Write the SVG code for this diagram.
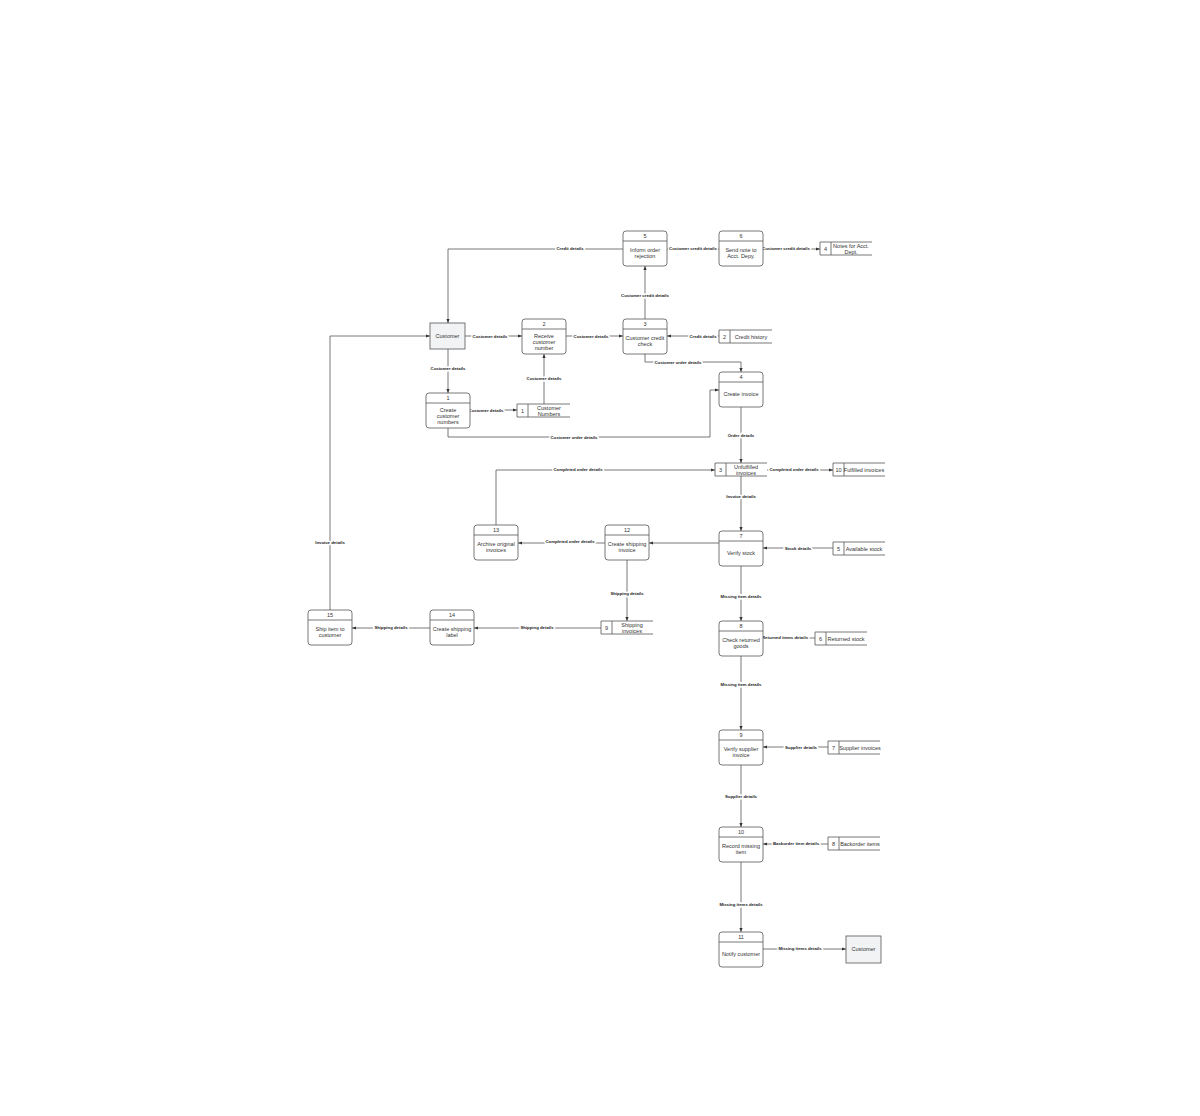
<svg xmlns="http://www.w3.org/2000/svg" width="1200" height="1116" viewBox="0 0 1200 1116">
<defs>
<marker id="ar" viewBox="0 0 10 10" refX="10" refY="5" markerWidth="5" markerHeight="5" orient="auto"><path d="M0,1 L10,5 L0,9 z" fill="#333"/></marker>
<style>
.p{fill:#fff;stroke:#555;stroke-width:0.8}
.e{fill:#f2f3f5;stroke:#555;stroke-width:0.8}
.s{fill:none;stroke:#555;stroke-width:0.8}
.t{font-family:"Liberation Sans",Arial,sans-serif;font-size:5.5px;fill:#333;text-anchor:middle}
.c path{fill:none;stroke:#555;stroke-width:0.8;marker-end:url(#ar)}
.l{font-family:"Liberation Sans",Arial,sans-serif;font-size:4.3px;font-weight:bold;fill:#222;text-anchor:middle;paint-order:stroke;stroke:#fff;stroke-width:3px}
</style>
</defs>
<rect width="1200" height="1116" fill="#fff"/>
<g class="c" id="connectors">
<path d="M623,249 H448 V323"/><text class="l" x="570" y="250">Credit details</text>
<path d="M667,249 H719"/><text class="l" x="693" y="250">Customer credit details</text>
<path d="M763,249 H820"/><text class="l" x="786" y="250">Customer credit details</text>
<path d="M645,319 V266"/><text class="l" x="645" y="297">Customer credit details</text>
<path d="M465,336 H522"/><text class="l" x="490" y="338">Customer details</text>
<path d="M566,336 H623"/><text class="l" x="591" y="338">Customer details</text>
<path d="M719,336 H667"/><text class="l" x="703" y="338">Credit details</text>
<path d="M645,354 V362 H741 V372"/><text class="l" x="678" y="364">Customer order details</text>
<path d="M448,349 V393"/><text class="l" x="448" y="370">Customer details</text>
<path d="M470,410 H517"/><text class="l" x="486" y="412">Customer details</text>
<path d="M544,404 V354"/><text class="l" x="544" y="380">Customer details</text>
<path d="M448,428 V437 H710 V390 H719"/><text class="l" x="574" y="439">Customer order details</text>
<path d="M741,407 V463"/><text class="l" x="741" y="437">Order details</text>
<path d="M767,470 H833"/><text class="l" x="794" y="471">Completed order details</text>
<path d="M496,525 V470 H715"/><text class="l" x="578" y="471">Completed order details</text>
<path d="M741,476 V531"/><text class="l" x="741" y="498">Invoice details</text>
<path d="M833,548 H763"/><text class="l" x="798" y="550">Stock details</text>
<path d="M719,543 H649"/>
<path d="M605,543 H518"/><text class="l" x="570" y="543">Completed order details</text>
<path d="M627,560 V621"/><text class="l" x="627" y="595">Shipping details</text>
<path d="M601,628 H474"/><text class="l" x="537" y="629">Shipping details</text>
<path d="M430,628 H352"/><text class="l" x="391" y="629">Shipping details</text>
<path d="M330,610 V336 H430"/><text class="l" x="330" y="544">Invoice details</text>
<path d="M741,566 V621"/><text class="l" x="741" y="598">Missing item details</text>
<path d="M815,638 H763"/><text class="l" x="785" y="639">Returned items details</text>
<path d="M741,656 V730"/><text class="l" x="741" y="686">Missing item details</text>
<path d="M828,747 H763"/><text class="l" x="801" y="749">Supplier details</text>
<path d="M741,765 V827"/><text class="l" x="741" y="798">Supplier details</text>
<path d="M828,844 H763"/><text class="l" x="796" y="845">Backorder item details</text>
<path d="M741,862 V932"/><text class="l" x="741" y="906">Missing items details</text>
<path d="M763,949 H846"/><text class="l" x="800" y="950">Missing items details</text>
</g>
<g id="customer1"><rect class="e" x="430" y="323" width="35" height="26"/><text class="t" x="447.5" y="338">Customer</text></g>
<g id="customer2"><rect class="e" x="846" y="936" width="35" height="27"/><text class="t" x="863.5" y="951">Customer</text></g>
<g id="p1"><rect class="p" x="426" y="393" width="44" height="35" rx="3"/><path class="s" d="M426,403 H470"/><text class="t" x="448" y="400">1</text><text class="t" x="448" y="412">Create</text><text class="t" x="448" y="418">customer</text><text class="t" x="448" y="424">numbers</text></g>
<g id="p2"><rect class="p" x="522" y="319" width="44" height="35" rx="3"/><path class="s" d="M522,329 H566"/><text class="t" x="544" y="326">2</text><text class="t" x="544" y="338">Receive</text><text class="t" x="544" y="344">customer</text><text class="t" x="544" y="350">number</text></g>
<g id="p3"><rect class="p" x="623" y="319" width="44" height="35" rx="3"/><path class="s" d="M623,329 H667"/><text class="t" x="645" y="326">3</text><text class="t" x="645" y="340">Customer credit</text><text class="t" x="645" y="346">check</text></g>
<g id="p4"><rect class="p" x="719" y="372" width="44" height="35" rx="3"/><path class="s" d="M719,382 H763"/><text class="t" x="741" y="379">4</text><text class="t" x="741" y="396">Create invoice</text></g>
<g id="p5"><rect class="p" x="623" y="231" width="44" height="35" rx="3"/><path class="s" d="M623,241 H667"/><text class="t" x="645" y="238">5</text><text class="t" x="645" y="252">Inform order</text><text class="t" x="645" y="258">rejection</text></g>
<g id="p6"><rect class="p" x="719" y="231" width="44" height="35" rx="3"/><path class="s" d="M719,241 H763"/><text class="t" x="741" y="238">6</text><text class="t" x="741" y="252">Send note to</text><text class="t" x="741" y="258">Acct. Depy.</text></g>
<g id="p7"><rect class="p" x="719" y="531" width="44" height="35" rx="3"/><path class="s" d="M719,541 H763"/><text class="t" x="741" y="538">7</text><text class="t" x="741" y="555">Verify stock</text></g>
<g id="p8"><rect class="p" x="719" y="621" width="44" height="35" rx="3"/><path class="s" d="M719,631 H763"/><text class="t" x="741" y="628">8</text><text class="t" x="741" y="642">Check returned</text><text class="t" x="741" y="648">goods</text></g>
<g id="p9"><rect class="p" x="719" y="730" width="44" height="35" rx="3"/><path class="s" d="M719,740 H763"/><text class="t" x="741" y="737">9</text><text class="t" x="741" y="751">Verify supplier</text><text class="t" x="741" y="757">invoice</text></g>
<g id="p10"><rect class="p" x="719" y="827" width="44" height="35" rx="3"/><path class="s" d="M719,837 H763"/><text class="t" x="741" y="834">10</text><text class="t" x="741" y="848">Record missing</text><text class="t" x="741" y="854">item</text></g>
<g id="p11"><rect class="p" x="719" y="932" width="44" height="35" rx="3"/><path class="s" d="M719,942 H763"/><text class="t" x="741" y="939">11</text><text class="t" x="741" y="956">Notify customer</text></g>
<g id="p12"><rect class="p" x="605" y="525" width="44" height="35" rx="3"/><path class="s" d="M605,535 H649"/><text class="t" x="627" y="532">12</text><text class="t" x="627" y="546">Create shipping</text><text class="t" x="627" y="552">invoice</text></g>
<g id="p13"><rect class="p" x="474" y="525" width="44" height="35" rx="3"/><path class="s" d="M474,535 H518"/><text class="t" x="496" y="532">13</text><text class="t" x="496" y="546">Archive original</text><text class="t" x="496" y="552">invoices</text></g>
<g id="p14"><rect class="p" x="430" y="610" width="44" height="35" rx="3"/><path class="s" d="M430,620 H474"/><text class="t" x="452" y="617">14</text><text class="t" x="452" y="631">Create shipping</text><text class="t" x="452" y="637">label</text></g>
<g id="p15"><rect class="p" x="308" y="610" width="44" height="35" rx="3"/><path class="s" d="M308,620 H352"/><text class="t" x="330" y="617">15</text><text class="t" x="330" y="631">Ship item to</text><text class="t" x="330" y="637">customer</text></g>
<g id="ds4"><path class="s" d="M872,242 H820 V255 H872 M831,242 V255"/><text class="t" x="825.5" y="250.5">4</text><text class="t" x="851" y="248">Notes for Acct.</text><text class="t" x="851" y="254">Dept.</text></g>
<g id="ds2"><path class="s" d="M772,330 H719 V343 H772 M730,330 V343"/><text class="t" x="724.5" y="338.5">2</text><text class="t" x="751" y="338.5">Credit history</text></g>
<g id="ds1"><path class="s" d="M570,404 H517 V417 H570 M528,404 V417"/><text class="t" x="522.5" y="412.5">1</text><text class="t" x="549" y="410">Customer</text><text class="t" x="549" y="416">Numbers</text></g>
<g id="ds3"><path class="s" d="M767,463 H715 V476 H767 M726,463 V476"/><text class="t" x="720.5" y="471.5">3</text><text class="t" x="746" y="469">Unfulfilled</text><text class="t" x="746" y="475">invoices</text></g>
<g id="ds10"><path class="s" d="M885,463 H833 V476 H885 M844,463 V476"/><text class="t" x="838.5" y="471.5">10</text><text class="t" x="864" y="471.5">Fulfilled invoices</text></g>
<g id="ds5"><path class="s" d="M885,542 H833 V555 H885 M844,542 V555"/><text class="t" x="838.5" y="550.5">5</text><text class="t" x="864" y="550.5">Available stock</text></g>
<g id="ds9"><path class="s" d="M653,621 H601 V634 H653 M612,621 V634"/><text class="t" x="606.5" y="629.5">9</text><text class="t" x="632" y="627">Shipping</text><text class="t" x="632" y="633">invoices</text></g>
<g id="ds6"><path class="s" d="M867,632 H815 V645 H867 M826,632 V645"/><text class="t" x="820.5" y="640.5">6</text><text class="t" x="846" y="640.5">Returned stock</text></g>
<g id="ds7"><path class="s" d="M880,741 H828 V754 H880 M839,741 V754"/><text class="t" x="833.5" y="749.5">7</text><text class="t" x="860" y="749.5">Supplier invoices</text></g>
<g id="ds8"><path class="s" d="M880,837 H828 V850 H880 M839,837 V850"/><text class="t" x="833.5" y="845.5">8</text><text class="t" x="860" y="845.5">Backorder items</text></g>
</svg>
